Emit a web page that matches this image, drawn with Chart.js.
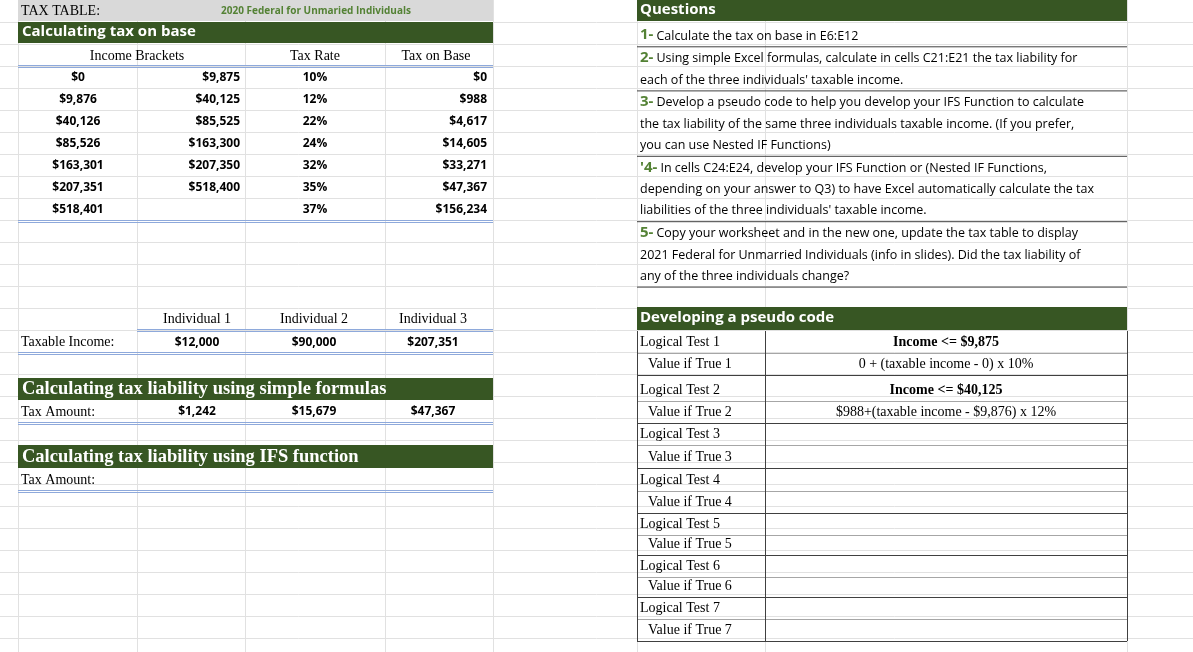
<!DOCTYPE html>
<html>
<head>
<meta charset="utf-8">
<script src="https://cdn.jsdelivr.net/npm/chart.js@4"></script>
<style>
  html, body { margin: 0; padding: 0; background: #fff; }
  #wrap { width: 1193px; height: 652px; }
</style>
</head>
<body>
<div id="wrap"><canvas id="sheet"></canvas></div>
<script>
// tax table data
const bracketLow = ['$0', '$9,876', '$40,126', '$85,526', '$163,301', '$207,351', '$518,401'];
const bracketHigh = ['$9,875', '$40,125', '$85,525', '$163,300', '$207,350', '$518,400', ''];
const taxRates = ['10%', '12%', '22%', '24%', '32%', '35%', '37%'];
const taxOnBase = ['$0', '$988', '$4,617', '$14,605', '$33,271', '$47,367', '$156,234'];
const individuals = ['Individual 1', 'Individual 2', 'Individual 3'];
const taxableIncome = ['$12,000', '$90,000', '$207,351'];
const taxSimple = ['$1,242', '$15,679', '$47,367'];

const questions = [
  [['1-', 'Calculate the tax on base in E6:E12']],
  [['2-', 'Using simple Excel formulas, calculate in cells C21:E21 the tax liability for'], ['', 'each of the three individuals\' taxable income.']],
  [['3-', 'Develop a pseudo code to help you develop your IFS Function to calculate'], ['', 'the tax liability of the same three individuals taxable income. (If you prefer,'], ['', 'you can use Nested IF Functions)']],
  [['\'4-', 'In cells C24:E24, develop your IFS Function or (Nested IF Functions,'], ['', 'depending on your answer to Q3) to have Excel automatically calculate the tax'], ['', 'liabilities of the three individuals\' taxable income.']],
  [['5-', 'Copy your worksheet and in the new one, update the tax table to display'], ['', '2021 Federal for Unmarried Individuals (info in slides). Did the tax liability of'], ['', 'any of the three individuals change?']]
];
const pseudoLabels = ['Logical Test 1', 'Value if True 1', 'Logical Test 2', 'Value if True 2', 'Logical Test 3', 'Value if True 3',
  'Logical Test 4', 'Value if True 4', 'Logical Test 5', 'Value if True 5', 'Logical Test 6', 'Value if True 6', 'Logical Test 7', 'Value if True 7'];
const pseudoValues = ['Income <= $9,875', '0 + (taxable income - 0) x 10%', 'Income <= $40,125', '$988+(taxable income - $9,876) x 12%'];

const GREEN = '#375623';
const SANS = '"Open Sans", "Noto Sans", sans-serif';
const SERIF = '"Liberation Serif", serif';

const sheetPlugin = {
  id: 'sheet',
  afterDraw(chart) {
    const c = chart.ctx;
    const X = v => chart.scales.x.getPixelForValue(v);
    const Y = v => chart.scales.y.getPixelForValue(v);
    const rect = (x0, y0, x1, y1, fill) => { c.fillStyle = fill; c.fillRect(X(x0), Y(y0), X(x1) - X(x0), Y(y1) - Y(y0)); };
    const hline = (x0, x1, y, col, w) => { c.strokeStyle = col; c.lineWidth = w || 1; c.beginPath(); c.moveTo(X(x0), Y(y) + 0.5); c.lineTo(X(x1), Y(y) + 0.5); c.stroke(); };
    const vline = (x, y0, y1, col) => { c.strokeStyle = col; c.lineWidth = 1; c.beginPath(); c.moveTo(X(x) + 0.5, Y(y0)); c.lineTo(X(x) + 0.5, Y(y1)); c.stroke(); };
    const dbl = (x0, x1, y) => { hline(x0, x1, y - 1, '#8ea9db'); hline(x0, x1, y + 1, '#8ea9db'); };
    const text = (s, x, y, font, col, align) => { c.font = font; c.fillStyle = col || '#000'; c.textAlign = align || 'left'; c.textBaseline = 'middle'; c.fillText(s, X(x), Y(y)); };

    c.save();
    // grid
    for (let y = 22; y < 652; y += 22) hline(0, 1193, y, '#e1e1e1');
    [18, 137, 245, 385, 493, 637, 765, 1127].forEach(x => vline(x, 0, 652, '#e1e1e1'));

    // left title rows
    rect(18, 0, 493, 21, '#d9d9d9');
    text('TAX TABLE:', 21, 11, '14px ' + SERIF);
    text('2020 Federal for Unmaried Individuals', 316, 11, 'bold 10px ' + SANS, '#548235', 'center');
    rect(18, 22, 493, 43, GREEN);
    text('Calculating tax on base', 22, 32, 'bold 15px ' + SANS, '#fff');
    text('Income Brackets', 137, 56, '14px ' + SERIF, '#000', 'center');
    text('Tax Rate', 315, 56, '14px ' + SERIF, '#000', 'center');
    text('Tax on Base', 436, 56, '14px ' + SERIF, '#000', 'center');
    dbl(18, 493, 66);
    bracketLow.forEach((v, i) => {
      const y = 78 + i * 22;
      text(v, 78, y, 'bold 12px ' + SANS, '#000', 'center');
      text(bracketHigh[i], 240, y, 'bold 12px ' + SANS, '#000', 'right');
      text(taxRates[i], 315, y, 'bold 12px ' + SANS, '#000', 'center');
      text(taxOnBase[i], 487, y, 'bold 12px ' + SANS, '#000', 'right');
    });
    dbl(18, 493, 221);

    const indX = [197, 314, 433];
    individuals.forEach((v, i) => text(v, indX[i], 319, '14px ' + SERIF, '#000', 'center'));
    dbl(137, 493, 330);
    text('Taxable Income:', 21, 342, '14px ' + SERIF);
    taxableIncome.forEach((v, i) => text(v, indX[i], 343, 'bold 12px ' + SANS, '#000', 'center'));
    dbl(18, 493, 353);

    rect(18, 378, 493, 400, GREEN);
    text('Calculating tax liability using simple formulas', 22, 389, 'bold 18.5px ' + SERIF, '#fff');
    text('Tax Amount:', 21, 412, '14px ' + SERIF);
    taxSimple.forEach((v, i) => text(v, indX[i], 412, 'bold 12px ' + SANS, '#000', 'center'));
    dbl(18, 493, 423);

    rect(18, 445, 493, 468, GREEN);
    text('Calculating tax liability using IFS function', 22, 457, 'bold 18.5px ' + SERIF, '#fff');
    text('Tax Amount:', 21, 480, '14px ' + SERIF);
    dbl(18, 493, 491);

    // questions
    rect(637, 0, 1127, 21, GREEN);
    text('Questions', 640, 10, 'bold 15px ' + SANS, '#fff');
    let y = 35;
    const bottoms = [];
    questions.forEach(q => {
      q.forEach(([num, s]) => {
        let x = 640;
        if (num) {
          text(num, x, y, 'bold 15px ' + SANS, '#548235');
          c.font = 'bold 15px ' + SANS;
          x += c.measureText(num).width / chart.scales.x.width * 1193 + 3;
        }
        text(s, x, y + 1, '12.5px ' + SANS);
        y += 21.3;
      });
      bottoms.push(y - 10);
      y += 1.5;
    });
    bottoms.forEach(b => hline(637, 1127, b, '#404040'));

    rect(637, 307, 1127, 330, GREEN);
    text('Developing a pseudo code', 640, 318, 'bold 15px ' + SANS, '#fff');
    const rowsY = [342, 364, 390, 412, 434, 457, 480, 502, 524, 544, 566, 586, 608, 630];
    pseudoLabels.forEach((s, i) => {
      const yy = rowsY[i];
      text(s, i % 2 ? 648 : 640, yy, '14px ' + SERIF);
      hline(637, 1127, yy + 11, i % 2 ? '#404040' : '#a6a6a6');
      if (pseudoValues[i]) text(pseudoValues[i], 946, yy, (i % 2 ? '' : 'bold ') + '14px ' + SERIF, '#000', 'center');
    });
    vline(765, 331, 641, '#404040');
    vline(1127, 331, 641, '#404040');
    vline(637, 331, 641, '#404040');
    c.restore();
  }
};

new Chart(document.getElementById('sheet'), {
  type: 'scatter',
  data: { datasets: [{ data: [] }] },
  options: {
    responsive: true,
    maintainAspectRatio: false,
    animation: false,
    layout: { padding: 0 },
    plugins: { legend: { display: false }, tooltip: { enabled: false } },
    scales: {
      x: { type: 'linear', min: 0, max: 1193, display: false },
      y: { type: 'linear', min: 0, max: 652, reverse: true, display: false }
    }
  },
  plugins: [sheetPlugin]
});
</script>
</body>
</html>
